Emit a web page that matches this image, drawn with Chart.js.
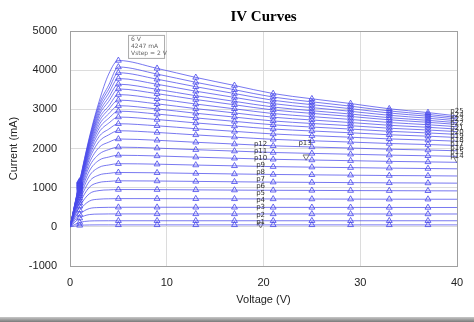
<!DOCTYPE html>
<html>
<head>
<meta charset="utf-8">
<script src="https://cdn.jsdelivr.net/npm/chart.js@4.4.0/dist/chart.umd.min.js"></script>
<style>
  html, body { margin: 0; padding: 0; background: #fff; }
  #wrap { width: 474px; height: 317px; position: relative; }
  #bar { width: 474px; height: 5px; background: linear-gradient(#c8c8c8, #7a7a7a); }
</style>
</head>
<body>
<div id="wrap"><canvas id="myChart"></canvas></div>
<div id="bar"></div>
<script>
// drain voltage sweep points (V)
const voltages = [0, 1, 2, 3, 4, 5, 9, 13, 17, 21, 25, 29, 33, 37, 40];
// voltages that carry a triangle marker
const markerVoltages = [1, 5, 9, 13, 17, 21, 25, 29, 33, 37];

// current (mA) per gate step, top curve first
const currents = [
  [0, 1170, 2285, 3194, 3900, 4247, 4046, 3815, 3609, 3403, 3269, 3148, 3014, 2917, 2832],
  [0, 1152, 2249, 3116, 3618, 4081, 3900, 3690, 3501, 3313, 3192, 3081, 2959, 2870, 2793],
  [0, 1135, 2212, 3048, 3516, 3934, 3770, 3577, 3404, 3231, 3119, 3017, 2906, 2824, 2753],
  [0, 1118, 2173, 2976, 3413, 3787, 3640, 3463, 3304, 3146, 3044, 2950, 2848, 2773, 2708],
  [0, 1100, 2134, 2903, 3305, 3642, 3510, 3348, 3204, 3059, 2965, 2880, 2787, 2719, 2659],
  [0, 1083, 2098, 2839, 3203, 3520, 3400, 3251, 3117, 2983, 2897, 2818, 2732, 2669, 2614],
  [0, 1065, 2057, 2762, 3084, 3377, 3270, 3135, 3013, 2892, 2814, 2742, 2664, 2607, 2557],
  [0, 1045, 2015, 2681, 2999, 3235, 3140, 3018, 2908, 2799, 2728, 2663, 2593, 2541, 2496],
  [0, 1024, 1967, 2598, 2885, 3093, 3010, 2900, 2802, 2703, 2639, 2582, 2518, 2472, 2431],
  [0, 1005, 1919, 2510, 2771, 2953, 2880, 2781, 2693, 2605, 2548, 2496, 2439, 2397, 2361],
  [0, 982, 1865, 2414, 2647, 2803, 2740, 2653, 2575, 2497, 2447, 2401, 2351, 2314, 2282],
  [0, 953, 1800, 2303, 2493, 2632, 2580, 2505, 2438, 2371, 2328, 2288, 2245, 2214, 2186],
  [0, 922, 1728, 2177, 2348, 2453, 2410, 2347, 2290, 2234, 2198, 2164, 2128, 2101, 2078],
  [0, 883, 1634, 2025, 2161, 2243, 2210, 2159, 2114, 2068, 2038, 2012, 1982, 1961, 1942],
  [0, 839, 1537, 1854, 1972, 2035, 2010, 1970, 1934, 1898, 1875, 1854, 1831, 1814, 1799],
  [0, 793, 1425, 1700, 1781, 1828, 1810, 1779, 1751, 1724, 1706, 1689, 1671, 1658, 1647],
  [0, 738, 1300, 1518, 1579, 1612, 1600, 1577, 1557, 1537, 1524, 1512, 1499, 1489, 1481],
  [0, 675, 1159, 1323, 1366, 1388, 1380, 1364, 1350, 1337, 1328, 1319, 1310, 1304, 1298],
  [0, 606, 1011, 1132, 1160, 1175, 1170, 1160, 1150, 1141, 1135, 1129, 1123, 1119, 1115],
  [0, 525, 845, 926, 943, 953, 950, 944, 938, 933, 930, 926, 923, 920, 918],
  [0, 427, 657, 706, 716, 721, 720, 717, 714, 712, 710, 708, 706, 705, 704],
  [0, 319, 467, 493, 498, 500, 500, 499, 498, 497, 496, 496, 495, 494, 494],
  [0, 223, 313, 326, 329, 330, 330, 330, 329, 329, 329, 329, 328, 328, 328],
  [0, 111, 149, 154, 155, 155, 155, 155, 155, 155, 155, 155, 155, 155, 155],
  [0, 37, 48, 50, 50, 50, 50, 50, 50, 50, 50, 50, 50, 50, 50]
];

// gray probe tags
const tagLabels = ['p1', 'p2', 'p3', 'p4', 'p5', 'p6', 'p7', 'p8', 'p9', 'p10', 'p11', 'p12', 'p13',
  'p14', 'p15', 'p16', 'p17', 'p18', 'p19', 'p20', 'p21', 'p22', 'p23', 'p24', 'p25'];
const tagVoltages = [19.7, 19.7, 19.7, 19.7, 19.7, 19.7, 19.7, 19.7, 19.7, 19.7, 19.7, 19.7, 24.3,
  40, 40, 40, 40, 40, 40, 40, 40, 40, 40, 40, 40];
const tagCurrents = [130, 310, 490, 670, 850, 1030, 1210, 1390, 1570, 1750, 1930, 2110, 2130,
  1800, 1900, 2000, 2110, 2210, 2320, 2420, 2530, 2640, 2740, 2850, 2960];
const tagPoints = [[19.7, 60], [24.4, 1790], [40, 1720]];

const peakNote = ['6 V', '4247 mA', 'Vstep = 2 V'];

const lineColor = 'rgba(75, 75, 235, 0.75)';

const datasets = currents.map(function(row) {
  return {
    data: row.map(function(c, i) { return { x: voltages[i], y: c }; }),
    borderColor: lineColor,
    borderWidth: 1,
    backgroundColor: 'rgba(0,0,0,0)',
    pointStyle: 'triangle',
    pointBorderColor: 'rgba(70, 70, 235, 0.8)',
    pointBackgroundColor: 'rgba(255,255,255,0)',
    pointBorderWidth: 1,
    pointRadius: function(ctx) {
      return markerVoltages.includes(voltages[ctx.dataIndex]) ? 3.4 : 0;
    },
    cubicInterpolationMode: 'monotone',
    fill: false
  };
});

datasets.push({
  data: tagPoints.map(function(p) { return { x: p[0], y: p[1] }; }),
  showLine: false,
  pointStyle: 'triangle',
  rotation: 180,
  pointRadius: 3.5,
  pointBorderColor: '#777',
  pointBackgroundColor: 'rgba(255,255,255,0)',
  pointBorderWidth: 1
});

const extras = {
  id: 'extras',
  beforeDatasetsDraw(chart) {
    const a = chart.chartArea, c = chart.ctx;
    c.save();
    c.strokeStyle = '#a0a0a0';
    c.lineWidth = 1;
    c.strokeRect(a.left + 0.5, a.top + 0.5, a.right - a.left, a.bottom - a.top);
    c.restore();
  },
  afterDatasetsDraw(chart) {
    const c = chart.ctx, xs = chart.scales.x, ys = chart.scales.y, a = chart.chartArea;
    c.save();
    // tags
    c.font = '7px "DejaVu Sans"';
    c.fillStyle = '#333';
    c.textAlign = 'center';
    c.textBaseline = 'middle';
    tagLabels.forEach(function(t, i) {
      c.fillText(t, xs.getPixelForValue(tagVoltages[i]), ys.getPixelForValue(tagCurrents[i]));
    });
    // peak note box
    const bx = xs.getPixelForValue(6), by = ys.getPixelForValue(4900);
    c.fillStyle = 'rgba(255,255,255,0.9)';
    c.fillRect(bx, by, 36, 23);
    c.strokeStyle = '#aaa';
    c.strokeRect(bx + 0.5, by + 0.5, 36, 23);
    c.fillStyle = '#666';
    c.font = '6px "DejaVu Sans"';
    c.textAlign = 'left';
    c.textBaseline = 'top';
    peakNote.forEach(function(t, i) { c.fillText(t, bx + 3, by + 2 + i * 7); });
    // title
    c.fillStyle = '#000';
    c.font = 'bold 15px "Liberation Serif"';
    c.textAlign = 'center';
    c.textBaseline = 'middle';
    c.fillText('IV Curves', (a.left + a.right) / 2, 17);
    c.restore();
  }
};

const plainTick = function(v) { return String(v); };

const ctx = document.getElementById('myChart').getContext('2d');
const chart = new Chart(ctx, {
  type: 'line',
  data: { datasets: datasets },
  options: {
    responsive: true,
    maintainAspectRatio: false,
    animation: false,
    events: [],
    layout: { padding: { top: 31, right: 17, left: 0, bottom: 0 } },
    plugins: { legend: { display: false }, tooltip: { enabled: false }, title: { display: false } },
    scales: {
      x: {
        type: 'linear',
        min: 0, max: 40,
        ticks: { stepSize: 10, padding: 10, color: '#222', callback: plainTick, font: { family: 'Liberation Sans', size: 11 } },
        grid: { color: '#dcdcdc', drawTicks: false },
        border: { color: '#a0a0a0' },
        title: { display: true, text: 'Voltage (V)', color: '#222', font: { family: 'Liberation Sans', size: 11 }, padding: { top: 0, bottom: 10 } },
        afterFit: function(s) { s.height = 51; }
      },
      y: {
        min: -1000, max: 5000,
        ticks: { stepSize: 1000, padding: 13, color: '#222', callback: plainTick, font: { family: 'Liberation Sans', size: 11 } },
        grid: { color: '#dcdcdc', drawTicks: false },
        border: { color: '#a0a0a0' },
        title: { display: true, text: 'Current (mA)', color: '#222', font: { family: 'Liberation Sans', size: 11 }, padding: { top: 7, bottom: 0 } },
        afterFit: function(s) { s.width = 70; }
      }
    }
  },
  plugins: [extras]
});
</script>
</body>
</html>
